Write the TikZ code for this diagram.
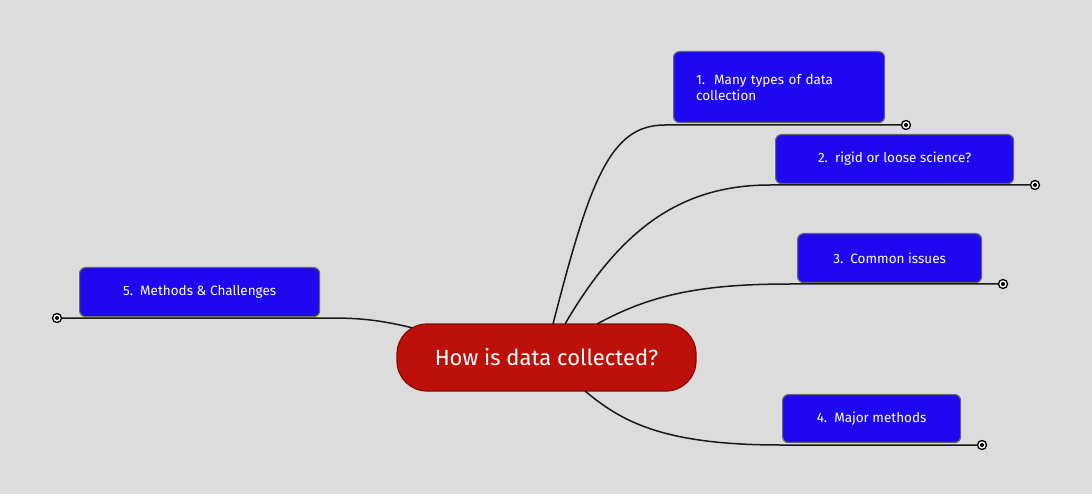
\documentclass[tikz,border=0pt]{standalone}
\usepackage{fontspec}
\setmainfont{Fira Sans}
\begin{document}
\begin{tikzpicture}[x=1pt,y=1pt,
  topic/.style={draw=gray!80!black,line width=1.2pt,fill=blueN,rounded corners=6pt,text=white,font=\fontsize{13.5}{16}\selectfont,align=left,inner sep=0pt,anchor=north west},
  link/.style={line width=1.5pt,black!90},
  endc/.style={circle,draw=black,line width=1.3pt,fill=white,minimum size=9pt,inner sep=0pt}]
\definecolor{blueN}{HTML}{1E08F0}
\definecolor{redN}{HTML}{BE100A}
\definecolor{bgc}{HTML}{DCDCDC}
\useasboundingbox (0,0) rectangle (1092,-494);
\fill[bgc] (0,0) rectangle (1092,-494);
\node[draw=redN!70!black,line width=1.2pt,fill=redN,rounded corners=30pt,minimum width=299pt,minimum height=67pt,text=white,font=\fontsize{22}{26}\selectfont] (c) at (546.5,-357.5) {How is data collected?};
\node[topic,minimum width=211pt,minimum height=71pt,text width=190pt] (t1) at (673,-51) {\hspace*{12pt}\parbox{185pt}{1.\ \ Many types of data\\collection}};
\node[topic,minimum width=238pt,minimum height=49pt] (t2) at (775,-134) {\hspace*{12pt}2.\ \ rigid or loose science?\hspace*{12pt}};
\node[topic,minimum width=184pt,minimum height=49pt] (t3) at (797,-233) {\hspace*{12pt}3.\ \ Common issues\hspace*{12pt}};
\node[topic,minimum width=178pt,minimum height=48pt] (t4) at (782,-394) {\hspace*{12pt}4.\ \ Major methods\hspace*{12pt}};
\node[topic,minimum width=240pt,minimum height=49pt] (t5) at (79,-267) {\hspace*{12pt}5.\ \ Methods \& Challenges\hspace*{12pt}};
\node[endc] (e1) at (906,-125) {};
\node[endc] (e2) at (1035,-185) {};
\node[endc] (e3) at (1003,-284) {};
\node[endc] (e4) at (982,-445) {};
\node[endc] (e5) at (57,-318) {};
\foreach \e in {e1,e2,e3,e4,e5} \fill (\e) circle (2pt);
\coordinate (p1) at (553,-324);
\coordinate (p2) at (565,-324);
\coordinate (p3) at (597,-324);
\coordinate (p4) at (585,-391);
\coordinate (p5) at (413,-328);
\draw[link] (p1) .. controls (590,-180) and (610,-125) .. (665,-125) -- (e1.west);
\draw[link] (p2) .. controls (620,-230) and (680,-185) .. (770,-185) -- (e2.west);
\draw[link] (p3) .. controls (650,-295) and (700,-284) .. (790,-284) -- (e3.west);
\draw[link] (p4) .. controls (620,-420) and (660,-445) .. (780,-445) -- (e4.west);
\draw[link] (p5) .. controls (380,-320) and (360,-318) .. (330,-318) -- (e5.east);
\end{tikzpicture}
\end{document}
